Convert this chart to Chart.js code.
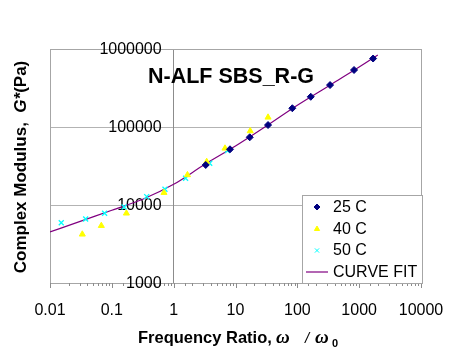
<!DOCTYPE html>
<html>
<head>
<meta charset="utf-8">
<script src="https://cdn.jsdelivr.net/npm/chart.js@4.4.1/dist/chart.umd.min.js"></script>
<style>
    body { margin: 0; background: #fff; }
    #wrap { width: 474px; height: 363px; position: relative; }
</style>
</head>
<body>
<div id="wrap"><canvas id="chart"></canvas></div>
<script>
const freq25 = [3.3, 8.15, 17, 33.6, 83, 165, 338, 826, 1680];
const g25 = [32600, 51800, 73800, 106000, 174000, 244000, 345000, 538000, 755000];

const freq40 = [0.0333, 0.0676, 0.172, 0.697, 1.67, 3.42, 6.76, 17.3, 33.6];
const g40 = [4210, 5430, 7830, 14400, 24300, 35900, 53300, 88900, 133000];

const freq50 = [0.0152, 0.0377, 0.0764, 0.158, 0.366, 0.723, 1.56, 3.83, 7.4];
const g50 = [5930, 6620, 7830, 9420, 12800, 15900, 22000, 34300, 49700];

const fitFreq = [0.01, 0.0316, 0.1, 0.316, 1, 3.16, 10, 31.6, 100, 316, 1000, 2000];
const fitG = [4510, 6220, 8570, 11830, 18410, 33000, 57020, 103000, 190100, 333400, 586100, 837500];

const xTickLabels = ["0.01", "0.1", "1", "10", "100", "1000", "10000"];
const yTickLabels = ["1000", "10000", "100000", "1000000"];
const seriesNames = ["25 C", "40 C", "50 C", "CURVE FIT"];

const FONT = "'Liberation Sans', Arial, sans-serif";

function pts(xs, ys) {
    return xs.map((x, i) => ({ x: x, y: ys[i] }));
}

function decade(v) {
    const e = Math.log10(v);
    return Math.abs(e - Math.round(e)) < 1e-6 ? Math.round(e) : null;
}

const decor = {
    id: "decor",
    beforeDatasetsDraw(chart) {
        const { ctx, chartArea: a } = chart;
        const xs = chart.scales.x, ys = chart.scales.y;
        ctx.save();
        ctx.strokeStyle = "#a6a6a6";
        ctx.lineWidth = 1;
        ctx.strokeRect(a.left + 0.5, a.top + 0.5, a.right - a.left, a.bottom - a.top);

        // x axis tick marks, long on decades, short in between
        ctx.strokeStyle = "#8c8c8c";
        ctx.beginPath();
        xs.ticks.forEach(t => {
            const px = Math.round(xs.getPixelForValue(t.value)) + 0.5;
            const len = decade(t.value) !== null ? 5 : 3;
            ctx.moveTo(px, a.bottom);
            ctx.lineTo(px, a.bottom + len);
        });
        ctx.stroke();

        // y tick labels, right aligned against the axis that crosses at x = 1
        const axisX = xs.getPixelForValue(1);
        ctx.fillStyle = "#000";
        ctx.font = "16px " + FONT;
        ctx.textAlign = "right";
        ctx.textBaseline = "middle";
        ys.ticks.forEach(t => {
            const e = decade(t.value);
            if (e === null) return;
            ctx.fillText(yTickLabels[e - 3], axisX - 12, ys.getPixelForValue(t.value) + 1);
        });
        ctx.restore();
    },
    afterDraw(chart) {
        const { ctx } = chart;
        ctx.save();
        ctx.fillStyle = "#000";

        // title inside the plot
        ctx.font = "bold 21.5px " + FONT;
        ctx.textBaseline = "middle";
        ctx.textAlign = "left";
        ctx.fillText("N-ALF SBS_R-G", 148, 77);

        // x axis title
        ctx.textBaseline = "alphabetic";
        ctx.font = "bold 16.5px " + FONT;
        ctx.fillText("Frequency Ratio,", 138, 342.5);
        ctx.font = "bold italic 19px 'Liberation Serif', serif";
        ctx.fillText("ω", 276, 342.5);
        ctx.font = "italic 15px " + FONT;
        ctx.fillText("/", 305, 342.5);
        ctx.font = "bold italic 19px 'Liberation Serif', serif";
        ctx.fillText("ω", 315, 342.5);
        ctx.font = "bold 11px " + FONT;
        ctx.fillText("0", 332, 346.5);

        // y axis title
        ctx.save();
        ctx.translate(26, 167);
        ctx.rotate(-Math.PI / 2);
        ctx.textBaseline = "alphabetic";
        const p1 = "Complex Modulus,  ", p2 = "G*", p3 = "(Pa)";
        ctx.font = "bold 17px " + FONT;
        const w1 = ctx.measureText(p1).width, w3 = ctx.measureText(p3).width;
        ctx.font = "bold italic 17px " + FONT;
        const w2 = ctx.measureText(p2).width;
        let tx = -(w1 + w2 + w3) / 2;
        ctx.font = "bold 17px " + FONT;
        ctx.fillText(p1, tx, 0);
        ctx.font = "bold italic 17px " + FONT;
        ctx.fillText(p2, tx + w1, 0);
        ctx.font = "bold 17px " + FONT;
        ctx.fillText(p3, tx + w1 + w2, 0);
        ctx.restore();

        // legend box
        const lx = 302, ly = 195, lw = 120, lh = 88;
        ctx.fillStyle = "#fff";
        ctx.fillRect(lx, ly, lw, lh);
        ctx.strokeStyle = "#a6a6a6";
        ctx.lineWidth = 1;
        ctx.strokeRect(lx + 0.5, ly + 0.5, lw, lh);
        const rows = [207, 229, 250.5, 272];
        ctx.font = "16px " + FONT;
        ctx.textBaseline = "middle";
        chart.data.datasets.forEach((ds, i) => {
            const y = rows[i];
            if (ds.showLine) {
                ctx.strokeStyle = ds.borderColor;
                ctx.lineWidth = 1.2;
                ctx.beginPath();
                ctx.moveTo(306, y);
                ctx.lineTo(328, y);
                ctx.stroke();
            } else {
                ctx.fillStyle = ds.backgroundColor;
                ctx.strokeStyle = ds.borderColor;
                ctx.lineWidth = 1;
                Chart.helpers.drawPoint(ctx, {
                    pointStyle: ds.pointStyle, radius: 3, rotation: 0, borderWidth: 1
                }, 317, y);
            }
            ctx.fillStyle = "#000";
            ctx.fillText(ds.label, 333, y + 0.5);
        });
        ctx.restore();
    }
};

new Chart(document.getElementById("chart"), {
    type: "scatter",
    data: {
        datasets: [
            {
                label: seriesNames[0], data: pts(freq25, g25),
                pointStyle: "rectRot", pointRadius: 3.5,
                backgroundColor: "#000080", borderColor: "#000080", borderWidth: 1
            },
            {
                label: seriesNames[1], data: pts(freq40, g40),
                pointStyle: "triangle", pointRadius: 3.5,
                backgroundColor: "#ffff00", borderColor: "#ffff00", borderWidth: 1
            },
            {
                label: seriesNames[2], data: pts(freq50, g50),
                pointStyle: "crossRot", pointRadius: 3.5,
                backgroundColor: "#00ffff", borderColor: "#00ffff", borderWidth: 1.3
            },
            {
                label: seriesNames[3], data: pts(fitFreq, fitG),
                showLine: true, pointRadius: 0, borderColor: "#800080",
                backgroundColor: "#800080", borderWidth: 1.2,
                cubicInterpolationMode: "monotone"
            }
        ]
    },
    options: {
        responsive: true,
        maintainAspectRatio: false,
        animation: false,
        layout: { padding: { left: 50, right: 53, top: 49, bottom: 0 } },
        plugins: { legend: { display: false }, tooltip: { enabled: false } },
        scales: {
            x: {
                type: "logarithmic",
                min: 0.01,
                max: 10000,
                position: "bottom",
                afterFit: s => { s.height = 80; },
                grid: { drawOnChartArea: false, drawTicks: false },
                border: { color: "#a6a6a6" },
                ticks: {
                    autoSkip: false, maxRotation: 0, padding: 18, color: "#000",
                    font: { family: FONT, size: 16 },
                    callback: v => {
                        const e = decade(v);
                        return e === null ? "" : xTickLabels[e + 2];
                    }
                }
            },
            y: {
                type: "logarithmic",
                min: 1000,
                max: 1000000,
                position: { x: 1 },
                afterBuildTicks: s => { s.ticks = s.ticks.filter(t => decade(t.value) !== null); },
                grid: { color: "#b3b3b3", drawTicks: false },
                border: { color: "#8c8c8c" },
                ticks: { display: false }
            }
        }
    },
    plugins: [decor]
});
</script>
</body>
</html>
